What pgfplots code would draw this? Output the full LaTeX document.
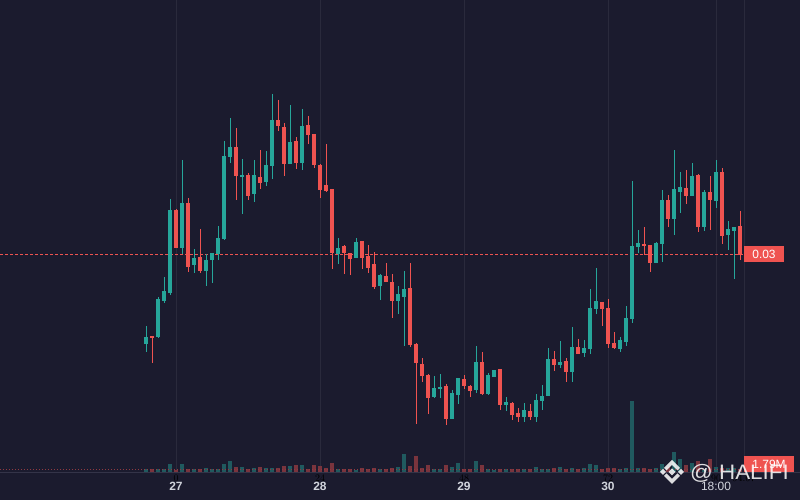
\documentclass[border=0pt]{standalone}
\usepackage{pgfplots}
\pgfplotsset{compat=1.18}
\usepackage{pgfplotstable}
\usepackage{fontspec}
\setmainfont{Liberation Sans}
\definecolor{bgc}{RGB}{27,27,46}
\definecolor{gridc}{RGB}{42,42,60}
\definecolor{basec}{RGB}{52,52,72}
\definecolor{up}{HTML}{26A69A}
\definecolor{down}{HTML}{EF5350}
\definecolor{lbl}{HTML}{D1D4DC}
\colorlet{upv}{up!45!bgc}
\colorlet{downv}{down!45!bgc}

% candles: i = hours since day 27 00:00; values in chart rows (bt/bb body, wt/wb wick)
\pgfplotstableread{
i bt bb wt wb
-5 337 344 326 352
-3 299 337 297 338
-2 291 301 277 303
-1 210 293 199 295
1 203 248 160 254
3 258 265 249 273
5 260 271 254 286
6 253 260 253 283
7 238 254 226 260
8 156 239 141 240
9 147 157 118 163
11 175 177 159 214
13 175 194 160 202
15 165 182 151 186
16 120 166 94 179
19 142 164 105 164
21 126 163 109 170
27 248 254 238 264
30 242 258 238 258
34 275 286 274 300
37 294 301 286 314
38 289 297 271 346
43 388 397 376 398
44 387 389 374 398
46 393 419 390 419
47 378 395 378 404
50 362 390 346 393
52 375 394 373 395
53 370 377 370 377
55 402 405 397 411
58 410 417 403 422
60 400 417 394 422
61 396 401 385 410
62 359 396 348 396
64 362 365 341 368
66 347 372 327 382
68 348 353 340 357
69 308 349 289 354
70 301 309 268 314
74 340 349 337 352
75 318 342 306 346
76 246 319 181 323
77 243 247 230 253
80 243 263 242 263
81 200 244 190 262
83 189 219 150 235
84 187 192 172 213
86 176 196 163 196
88 192 227 190 231
90 172 201 160 208
92 229 235 221 250
93 227 231 227 279
}\upc

\pgfplotstableread{
i bt bb wt wb
-4 336 338 336 363
0 210 248 209 248
2 203 267 198 272
4 257 271 229 273
10 147 176 128 200
12 175 196 173 200
14 177 183 150 189
17 120 126 100 131
18 127 164 123 176
20 141 163 137 169
22 125 135 116 144
23 134 165 134 168
24 165 190 164 198
25 185 191 144 192
26 189 253 189 269
28 246 253 245 274
29 253 259 253 275
31 241 258 241 269
32 256 268 245 273
33 264 287 252 289
35 276 282 263 282
36 282 301 274 318
39 288 345 263 347
40 344 363 343 424
41 364 376 358 382
42 375 398 374 414
45 386 419 384 425
48 379 386 375 389
49 386 391 385 397
51 362 394 352 395
54 369 405 369 410
56 403 415 402 420
57 413 417 408 422
59 411 417 404 420
63 359 365 351 371
65 361 372 358 382
67 347 354 339 354
71 302 309 302 326
72 308 344 299 348
73 343 348 332 349
78 244 246 227 255
79 245 263 245 272
82 200 219 195 227
85 188 196 170 204
87 175 227 174 232
89 192 200 176 230
91 172 236 168 244
94 226 255 211 260
}\downc

% volumes (bar heights)
\pgfplotstableread{
i h
-5 3
-3 3
-2 3
-1 8
1 8
3 3
5 4
6 3
7 3
8 8
9 11
11 5
13 4
15 4
16 4
19 6
21 7
27 3
30 2
34 3
37 5
38 18
43 3
44 3
46 5
47 9
50 11
52 3
53 2
55 3
58 3
60 5
61 3
62 3
64 5
66 4
68 4
69 8
70 7
74 3
75 4
76 71
77 4
80 4
81 8
83 20
84 13
86 9
88 3
90 5
92 4
93 4
}\upv

\pgfplotstableread{
i h
-4 3
0 2
2 3
4 3
10 5
12 3
14 5
17 4
18 6
20 7
22 3
23 7
24 6
25 4
26 9
28 3
29 3
31 4
32 3
33 4
35 3
36 4
39 6
40 16
41 4
42 7
45 7
48 3
49 3
51 7
54 3
56 3
57 3
59 3
63 4
65 3
67 3
71 3
72 4
73 4
78 4
79 3
82 5
85 7
87 11
89 13
91 4
94 3
}\downv

\pgfplotsset{
  bars/.style 2 args={forget plot, only marks, mark=*, mark size=0pt,
    mark options={draw opacity=0, fill opacity=0},
    error bars/.cd, y dir=plus, y explicit, error mark=none,
    error bar style={line width=#1, color=#2}},
}

\begin{document}
\begin{tikzpicture}
\fill[bgc] (0,0) rectangle (800bp,500bp);
\begin{axis}[
  at={(0,28bp)}, anchor=south west,
  scale only axis, width=800bp, height=472bp,
  xmin=-29.3333, xmax=104, ymin=0, ymax=472,
  y dir=reverse,
  axis line style={draw=none},
  major tick length=0pt,
  xtick={0,24,48,72,90,94.6667},
  xticklabel={}, ytick=\empty,
  xmajorgrids,
  grid style={gridc, line width=1bp},
  clip=false,
]
% volume bars
\addplot[bars={4.8bp}{upv}]
  table[x=i, y expr=472-\thisrow{h}, y error expr=\thisrow{h}] {\upv};
\addplot[bars={4.8bp}{downv}]
  table[x=i, y expr=472-\thisrow{h}, y error expr=\thisrow{h}] {\downv};
% base line, volume line, price line
\addplot[basec, line width=1bp] coordinates {(-29.3333,472) (104,472)};
\addplot[down!55!bgc, line width=1bp, dash pattern=on 1bp off 2bp] coordinates {(-29.3333,469) (94.6667,469)};
\addplot[down, line width=1bp, dash pattern=on 3bp off 2bp] coordinates {(-29.3333,254) (94.6667,254)};
% wicks
\addplot[bars={1bp}{up}]
  table[x=i, y=wt, y error expr=\thisrow{wb}-\thisrow{wt}] {\upc};
\addplot[bars={1bp}{down}]
  table[x=i, y=wt, y error expr=\thisrow{wb}-\thisrow{wt}] {\downc};
% bodies
\addplot[bars={4.8bp}{up}]
  table[x=i, y=bt, y error expr=\thisrow{bb}-\thisrow{bt}] {\upc};
\addplot[bars={4.8bp}{down}]
  table[x=i, y=bt, y error expr=\thisrow{bb}-\thisrow{bt}] {\downc};
\end{axis}
\begin{scope}[shift={(0,500bp)}, x=1bp, y=-1bp]
  \foreach \d/\xx in {27/176, 28/320, 29/464, 30/608}
    \node[text=lbl, font=\fontsize{12}{12}\selectfont\bfseries, inner sep=0] at (\xx,486) {\d};
  \node[text=lbl, font=\fontsize{12}{12}\selectfont, inner sep=0] at (716,486) {18:00};
  \node[fill=down, text=white, minimum width=40bp, minimum height=16bp, inner sep=0,
        font=\fontsize{12}{12}\selectfont] at (764,254) {0.03};
  \node[fill=down, text=white, minimum width=50bp, minimum height=16bp, inner sep=0,
        font=\fontsize{12}{12}\selectfont] at (769,464) {1.79M};
  % watermark
  \begin{scope}[fill=white, fill opacity=0.85]
    \fill (672,468.5) -- (675.5,472) -- (672,475.5) -- (668.5,472) -- cycle;
    \fill (663,469) -- (666,472) -- (663,475) -- (660,472) -- cycle;
    \fill (681,469) -- (684,472) -- (681,475) -- (678,472) -- cycle;
    \fill (672,460) -- (680,468) -- (677.5,470.5) -- (672,465) -- (666.5,470.5) -- (664,468) -- cycle;
    \fill (672,484) -- (680,476) -- (677.5,473.5) -- (672,479) -- (666.5,473.5) -- (664,476) -- cycle;
  \end{scope}
  \node[text=white, text opacity=0.85, font=\fontsize{21}{21}\selectfont, anchor=west,
        inner sep=0, xscale=1.07] at (690,473) {@ HALIFI};
\end{scope}
\pgfresetboundingbox
\path (0,0) rectangle (800bp,500bp);
\end{tikzpicture}
\end{document}
